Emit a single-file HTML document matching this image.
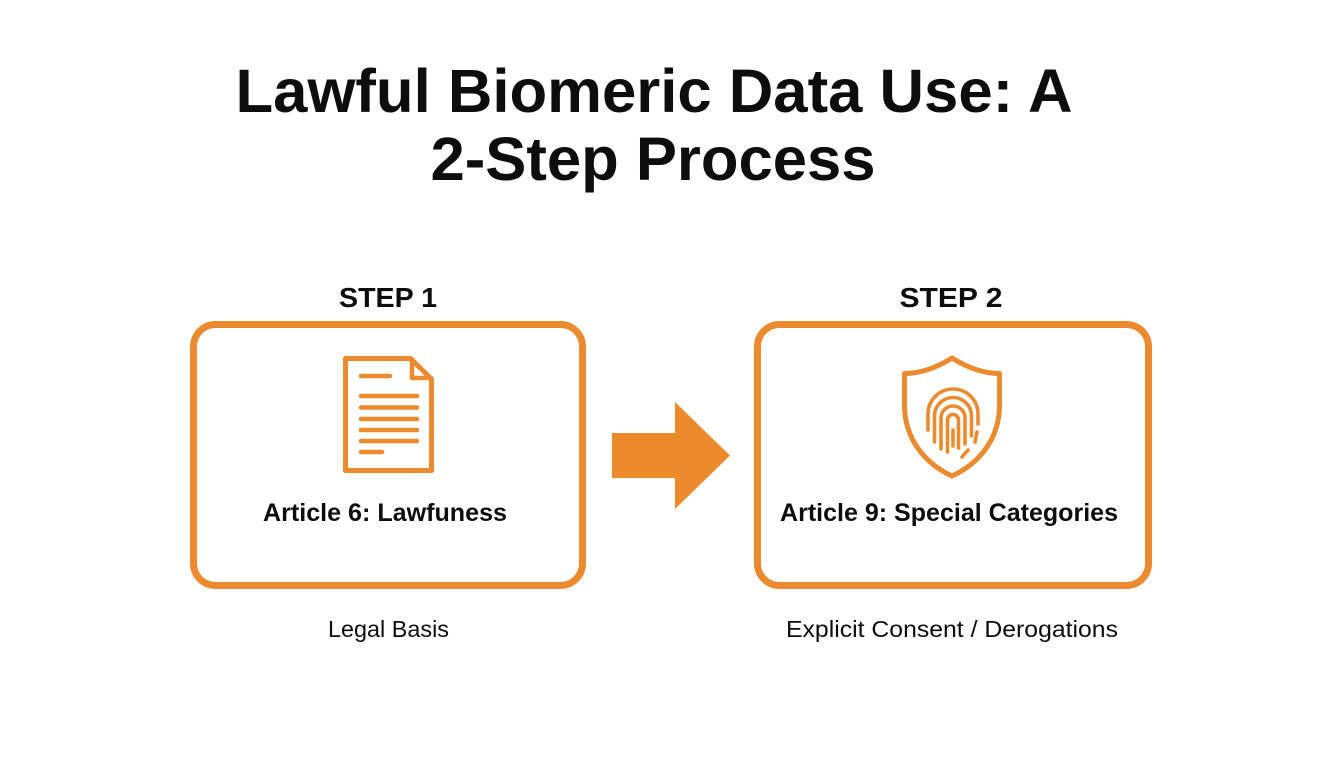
<!DOCTYPE html>
<html>
<head>
<meta charset="utf-8">
<style>
  html, body { margin:0; padding:0; background:#ffffff; }
  body { width:1344px; height:768px; overflow:hidden; }
  svg { display:block; }
  text { font-family: "Liberation Sans", Arial, sans-serif; fill:#0d0d0d; }
</style>
</head>
<body>
<svg width="1344" height="768" viewBox="0 0 1344 768" xmlns="http://www.w3.org/2000/svg">
  <rect x="0" y="0" width="1344" height="768" fill="#ffffff"/>

  <!-- Title -->
  <text x="654" y="112" font-size="61" font-weight="bold" text-anchor="middle" textLength="837" lengthAdjust="spacingAndGlyphs">Lawful Biomeric Data Use: A</text>
  <text x="653" y="180" font-size="61" font-weight="bold" text-anchor="middle" textLength="445" lengthAdjust="spacingAndGlyphs">2-Step Process</text>

  <!-- Step labels -->
  <text x="388" y="307" font-size="28" font-weight="bold" text-anchor="middle" textLength="98" lengthAdjust="spacingAndGlyphs">STEP 1</text>
  <text x="951" y="307" font-size="28" font-weight="bold" text-anchor="middle" textLength="103" lengthAdjust="spacingAndGlyphs">STEP 2</text>

  <!-- Boxes -->
  <rect x="193.5" y="324.5" width="389" height="261" rx="22" ry="22" fill="#ffffff" stroke="#EB8A2E" stroke-width="7"/>
  <rect x="757.5" y="324.5" width="391" height="261" rx="22" ry="22" fill="#ffffff" stroke="#EB8A2E" stroke-width="7"/>

  <!-- Document icon -->
  <g fill="none" stroke="#EB8A2E" stroke-linejoin="round" stroke-linecap="round">
    <path d="M345.5,358.5 L410.5,358.5 L431.5,379 L431.5,470.5 L345.5,470.5 Z" stroke-width="5" fill="#ffffff"/>
    <path d="M412,359 L412,378 L431,378" stroke-width="4.5"/>
    <g stroke-width="4.5" stroke-linecap="round">
      <line x1="361" y1="376" x2="390" y2="376"/>
      <line x1="361" y1="396" x2="417" y2="396"/>
      <line x1="361" y1="407.5" x2="417" y2="407.5"/>
      <line x1="361" y1="419" x2="417" y2="419"/>
      <line x1="361" y1="430" x2="417" y2="430"/>
      <line x1="361" y1="441" x2="417" y2="441"/>
      <line x1="361" y1="452" x2="382" y2="452"/>
    </g>
  </g>

  <!-- Shield with fingerprint -->
  <g fill="none" stroke="#EB8A2E" stroke-linejoin="round" stroke-linecap="round">
    <path d="M952,358 C936,368 921,373.5 904.5,373.5 L904.5,405 C904.5,440 926,464 952,476 C978,464 999.5,440 999.5,405 L999.5,373.5 C983,373.5 968,368 952,358 Z" stroke-width="5" fill="#ffffff"/>
    <g stroke-width="3.6">
      <path d="M928,430 L928,414 A25,25 0 0 1 978,414 L978,424"/>
      <path d="M934.5,442 L934.5,416 A18.5,18.5 0 0 1 971.5,416 L971.5,436"/>
      <path d="M941,449 L941,418 A12,12 0 0 1 965,418 L965,444"/>
      <path d="M947.5,452 L947.5,420 A5.5,5.5 0 0 1 958.5,420 L958.5,448"/>
      <path d="M953,430 L953,446"/>
      <path d="M977,432 L975,442"/>
      <path d="M968,450 L962,457"/>
    </g>
  </g>

  <!-- Center arrow -->
  <polygon points="612,433 675,433 675,402 730,455.5 675,509 675,478 612,478" fill="#EC8A2C"/>

  <!-- Article labels -->
  <text x="385" y="521" font-size="25" font-weight="bold" text-anchor="middle" textLength="244" lengthAdjust="spacingAndGlyphs">Article 6: Lawfuness</text>
  <text x="949" y="521" font-size="25" font-weight="bold" text-anchor="middle" textLength="338" lengthAdjust="spacingAndGlyphs">Article 9: Special Categories</text>

  <!-- Sub labels -->
  <text x="388.5" y="637" font-size="23" text-anchor="middle" textLength="121" lengthAdjust="spacingAndGlyphs" fill="#1a1a1a">Legal Basis</text>
  <text x="952" y="637" font-size="23" text-anchor="middle" textLength="332" lengthAdjust="spacingAndGlyphs" fill="#1a1a1a">Explicit Consent / Derogations</text>
</svg>
</body>
</html>
